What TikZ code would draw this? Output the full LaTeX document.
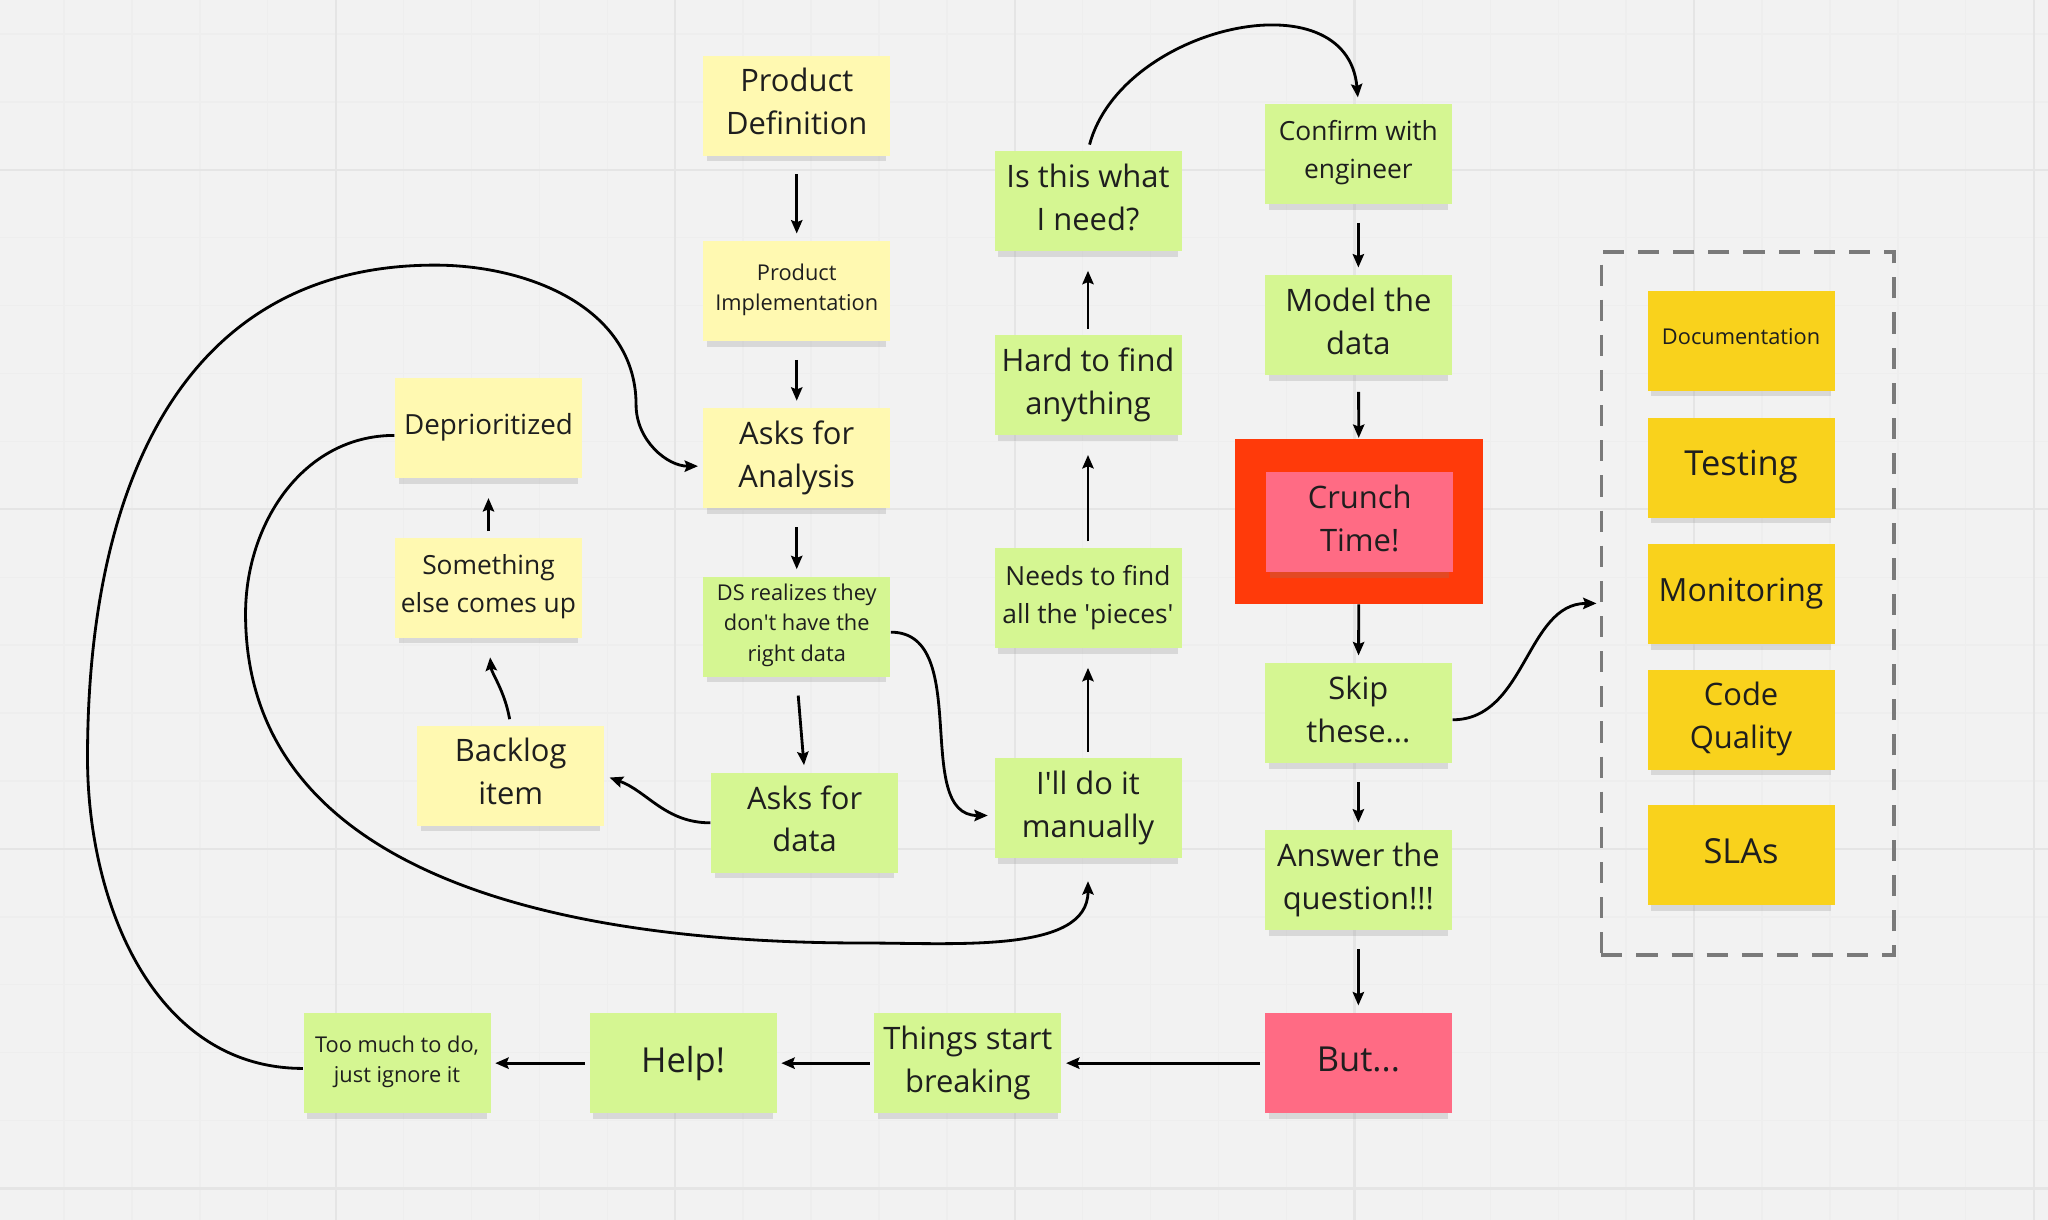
\documentclass[tikz,border=0pt]{standalone}
\usepackage{fontspec}
\setmainfont{Open Sans}
\usetikzlibrary{arrows.meta,shadows}
\definecolor{boardbg}{HTML}{F2F2F2}
\definecolor{gridminor}{HTML}{EEEEEE}
\definecolor{gridmajor}{HTML}{E5E5E5}
\definecolor{noteyellow}{HTML}{FFF9B1}
\definecolor{notegreen}{HTML}{D5F692}
\definecolor{notegold}{HTML}{F9D21C}
\definecolor{notepink}{HTML}{FF6B84}
\definecolor{framered}{HTML}{FF3A0A}
\definecolor{framedash}{HTML}{7A7A7A}
\definecolor{inkdark}{HTML}{1E1E1E}
\newcommand\notebig{\fontsize{8.8}{12.2}\selectfont}
\newcommand\notemid{\fontsize{7.5}{10.8}\selectfont}
\newcommand\notesmall{\fontsize{6.2}{8.6}\selectfont}
\newcommand\notehuge{\fontsize{9.8}{13}\selectfont}
\tikzset{
  note/.style={minimum width=1.87cm, minimum height=1cm, inner sep=1pt, align=center,
    text=inkdark, font=\notebig, text depth=0.24em,
    drop shadow={shadow xshift=0pt, shadow yshift=-2.2pt, shadow scale=0.96, opacity=0.22}},
  yellownote/.style={note, fill=noteyellow},
  greennote/.style={note, fill=notegreen},
  goldnote/.style={note, fill=notegold},
  pinknote/.style={note, fill=notepink},
  link/.style={line width=0.8pt, -{Stealth[length=3.8pt, width=3.2pt, inset=0.6pt]}},
  flowdown/.style={link, shorten <=0.18cm, shorten >=0.07cm},
  flowup/.style={link, shorten <=0.06cm, shorten >=0.19cm},
  flowside/.style={link, shorten <=0.04cm, shorten >=0.04cm}
}
\begin{document}
\begin{tikzpicture}[x=0.013061cm, y=0.013061cm]
        \fill[boardbg] (0,0) rectangle (1568,934);
        \useasboundingbox (0,0) rectangle (1568,934);
        \foreach \gx in {-3,49,...,1568} \draw[gridminor, line width=0.4pt] (\gx,0) -- (\gx,934);
        \foreach \gy in {24,76,...,934} \draw[gridminor, line width=0.4pt] (0,\gy) -- (1568,\gy);
        \foreach \gx in {-3,257,...,1568} \draw[gridmajor, line width=0.6pt] (\gx,0) -- (\gx,934);
        \foreach \gy in {24,284,...,934} \draw[gridmajor, line width=0.6pt] (0,\gy) -- (1568,\gy);

        \node[yellownote] (pdef) at (610,853) {Product\\Definition};
        \node[yellownote, font=\notesmall] (pimpl) at (610,711) {Product\\Implementation};
        \node[yellownote] (askana) at (610,583) {Asks for\\Analysis};
        \node[greennote, font=\notesmall] (dsreal) at (610,454) {DS realizes they\\don\textquotesingle t have the\\right data};
        \node[greennote] (askdata) at (616,304) {Asks for\\data};
        \node[yellownote] (backlog) at (391,340) {Backlog\\item};
        \node[yellownote, font=\notemid] (something) at (374,484) {Something\\else comes up};
        \node[yellownote, font=\fontsize{7.9}{11}\selectfont] (depr) at (374,606) {Deprioritized};
        \node[greennote] (manual) at (833,315) {I\textquotesingle ll do it\\manually};
        \node[greennote, font=\notemid] (needs) at (833,476) {Needs to find\\all the \textquotesingle pieces\textquotesingle};
        \node[greennote] (hard) at (833,639) {Hard to find\\anything};
        \node[greennote] (isthis) at (833,780) {Is this what\\I need?};
        \node[greennote, font=\notemid] (confirm) at (1040,816) {Confirm with\\engineer};
        \node[greennote] (model) at (1040,685) {Model the\\data};
        \node[fill=framered, minimum width=2.48cm, minimum height=1.65cm] (crunchframe) at (1040.5,535) {};
        \node[pinknote] (crunch) at (1041,534) {Crunch\\Time!};
        \node[greennote] (skip) at (1040,388) {Skip\\these...};
        \node[greennote] (answer) at (1040,260) {Answer the\\question!!!};
        \node[pinknote, font=\notehuge] (but) at (1040,120) {But...};
        \node[greennote] (things) at (741,120) {Things start\\breaking};
        \node[greennote, font=\notehuge] (help) at (523,120) {Help!};
        \node[greennote, font=\notesmall] (toomuch) at (304,120) {Too much to do,\\just ignore it};

        \node[draw=framedash, line width=1pt, dash pattern=on 6pt off 4pt,
              minimum width=2.926cm, minimum height=7.027cm] (skipbox) at (1338,472) {};
        \node[goldnote, font=\notesmall] (doc) at (1333,673) {Documentation};
        \node[goldnote, font=\notehuge] (test) at (1333,576) {Testing};
        \node[goldnote, font=\fontsize{9.1}{12.4}\selectfont] (monit) at (1333,479) {Monitoring};
        \node[goldnote] (codeq) at (1333,383) {Code\\Quality};
        \node[goldnote, font=\notehuge] (slas) at (1333,279) {SLAs};

        \draw[flowdown] (pdef) -- (pimpl);
        \draw[flowdown] (pimpl) -- (askana);
        \draw[flowdown] (askana) -- (dsreal);
        \draw[flowdown] (dsreal.south) -- (askdata.north);
        \draw[link, shorten >=0.05cm] (askdata.west) to[out=180,in=-20] (backlog.east);
        \draw[flowup] (backlog.north) to[out=100,in=-85] (something.south);
        \draw[flowup] (something) -- (depr);
        \draw[link, shorten >=0.06cm] ([yshift=-1.5pt]dsreal.east) to[out=0,in=180] ([yshift=-2pt]manual.west);
        \draw[flowup] (manual) -- (needs);
        \draw[flowup] (needs) -- (hard);
        \draw[flowup] (hard) -- (isthis);
        \draw[link, shorten <=0.06cm, shorten >=0.06cm] (isthis.north) to[out=75,in=95,looseness=1.2] (confirm.north);
        \draw[flowdown] (confirm) -- (model);
        \draw[link, shorten <=0.16cm] (model) -- (crunchframe);
        \draw[link, shorten >=0.07cm] (crunchframe) -- (skip);
        \draw[flowdown] (skip) -- (answer);
        \draw[flowdown] (answer) -- (but);
        \draw[flowside] (but) -- (things);
        \draw[flowside] (things) -- (help);
        \draw[flowside] (help) -- (toomuch);
        \draw[link, shorten >=0.03cm] ([yshift=-1.9pt]skip.east) to[out=0,in=180] (skipbox.west);

        \coordinate (deprloopA) at (188,464);
        \coordinate (deprloopB) at (660,212);
        \draw[link, shorten >=0.22cm] ([yshift=-2pt]depr.west) to[out=180,in=90] (deprloopA)
              to[out=-90,in=180] (deprloopB) to[out=0,in=-90] (manual.south);

        \coordinate (ignoreA) at (67,354);
        \coordinate (ignoreB) at (333,731);
        \coordinate (ignoreC) at (487,624);
        \draw[link, shorten >=0.045cm] ([yshift=-1.5pt]toomuch.west) to[out=180,in=-90] (ignoreA)
              to[out=90,in=180,looseness=1.1] (ignoreB) to[out=0,in=90] (ignoreC)
              to[out=-90,in=180] ([yshift=-2.2pt]askana.west);
    \end{tikzpicture}
\end{document}
